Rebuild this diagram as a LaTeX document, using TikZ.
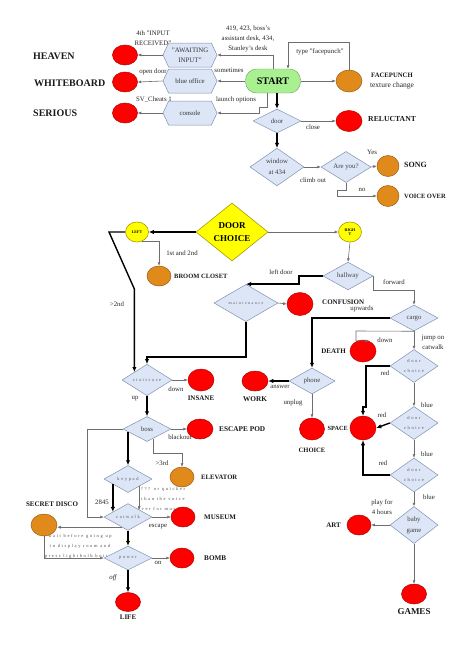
\documentclass[tikz,border=0pt]{standalone}
\usepackage{fontspec}
\setmainfont{Liberation Serif}
\newfontfamily\spcfont[LetterSpace=36]{Liberation Serif}
\usetikzlibrary{shapes.geometric,shapes.symbols,shapes.misc,arrows.meta,calc}
\definecolor{bfill}{HTML}{DCE6F7}
\definecolor{bdraw}{HTML}{8090B0}
\definecolor{rfill}{HTML}{FF0000}
\definecolor{rdraw}{HTML}{B00000}
\definecolor{ofill}{HTML}{E08A1C}
\definecolor{odraw}{HTML}{9A5B14}
\definecolor{yfill}{HTML}{FFFF00}
\definecolor{ydraw}{HTML}{A89A00}
\definecolor{gfill}{HTML}{A8F090}
\definecolor{gdraw}{HTML}{70A060}
\definecolor{lgray}{HTML}{6E6E6E}
\begin{document}
\begin{tikzpicture}[x=1pt,y=-1pt,
 lbl/.style={font=\fontsize{6.8}{10}\selectfont, text=black!85, inner sep=0, align=center},
 spl/.style={font=\spcfont\fontsize{4.5}{10}\selectfont, text=black!70, inner sep=0, align=center},
 ttl/.style={font=\bfseries\fontsize{#1}{#1}\selectfont, text=black!90, inner sep=0, align=center},
 dia/.style={diamond, draw=bdraw, fill=bfill, inner sep=0, line width=0.5pt, font=\fontsize{6.8}{11}\selectfont, text=black!75, align=center},
 sdia/.style={dia, font=\spcfont\fontsize{4.5}{10}\selectfont, text=black!65},
 hexa/.style={signal, signal to=east and west, signal pointer angle=130, draw=bdraw, fill=bfill, minimum width=54, minimum height=24, inner sep=0, line width=0.5pt, font=\fontsize{6.8}{10}\selectfont, align=center, text=black!80},
 rc/.style={ellipse, draw=rdraw, fill=rfill, inner sep=0, minimum width=26, minimum height=21, line width=0.5pt},
 oc/.style={ellipse, draw=odraw, fill=ofill, inner sep=0, minimum width=26, minimum height=21, line width=0.5pt},
 yc/.style={ellipse, draw=ydraw, fill=yfill, inner sep=0, minimum width=23, minimum height=20, line width=0.6pt, font=\bfseries\fontsize{4}{4.5}\selectfont, align=center},
 thn/.style={draw=lgray, line width=0.6pt, -{Latex[length=3.5pt,width=3pt]}},
 thk/.style={draw=black, line width=1.4pt, -{Latex[length=5pt,width=4.5pt]}},
]
\useasboundingbox (0,0) rectangle (474,648);
% ---------- labels drawn first ----------
\node[lbl] (l4th) at (153,38) {4th "INPUT\\RECEIVED"};
\node[lbl] (l419) at (248,38.5) {419, 423, boss's\\assistant desk, 434,\\Stanley's desk};
\node[lbl] (ltype) at (320,52) {type "facepunch"};
\node[lbl] (lsome) at (229,70) {sometimes};
\node[lbl] (lopen) at (153,72) {open door};
\node[lbl] (lsv) at (154,100) {SV\_Cheats 1};
\node[lbl] (llaunch) at (236,100) {launch options};
\node[lbl] (lclose) at (313,127) {close};
\node[lbl] (lclimb) at (313,180) {climb out};
\node[lbl] (lyes) at (372,152) {Yes};
\node[lbl] (lno) at (362,190) {no};
\node[lbl] (l1st) at (182,253) {1st and 2nd};
\node[lbl] (l2nd) at (117,304) {>2nd};
\node[lbl] (lleft) at (281,272) {left door};
\node[lbl] (lfwd) at (394,282) {forward};
\node[lbl] (lup) at (362,309) {upwards};
\node[lbl] (ldown) at (385,340) {down};
\node[lbl] (ljump) at (433,342) {jump on\\catwalk};
\node[lbl] (lr1) at (385,373) {red};
\node[lbl] (lb1) at (427,405) {blue};
\node[lbl] (lr2) at (382,415) {red};
\node[lbl] (lb2) at (427,454) {blue};
\node[lbl] (lr3) at (383,463) {red};
\node[lbl] (lb3) at (429,497) {blue};
\node[lbl] (lplay) at (382,507) {play for\\4 hours};
\node[lbl] (lans) at (280,387) {answer};
\node[lbl] (lunp) at (293,403) {unplug};
\node[lbl] (ldown2) at (176,389) {down};
\node[lbl] (lup2) at (135,399) {up};
\node[lbl] (lblack) at (180,437) {blackout};
\node[lbl] (l3rd) at (162,463) {>3rd};
\node[spl] (lquick) at (163,499) {??? or quicker\\than the voice\\ever for museum};
\node[lbl] (l2845) at (102,502) {2845};
\node[lbl] (lesc) at (158,527) {escape};
\node[spl] (lwait) at (80,546) {wait before going up\\in display room and\\press lightbulb button};
\node[lbl] (lon) at (158,563) {on};
\node[lbl,font=\itshape\fontsize{6.8}{10}\selectfont] (loff) at (113,578) {off};
% ---------- top section ----------
\node[hexa] (aw) at (190,55) {"AWAITING\\INPUT"};
\node[hexa] (bo) at (190,81) {blue office};
\node[hexa] (con) at (190,113) {console};
\node[rc, minimum width=25, minimum height=20] (heaven) at (125,55) {};
\node[rc, minimum width=25, minimum height=20] (wb) at (125,82) {};
\node[rc, minimum width=25, minimum height=20] (ser) at (125,113) {};
\node[ttl=10, anchor=west] (tHeaven) at (33,56) {HEAVEN};
\node[ttl=10, anchor=west] (tWb) at (34,83) {WHITEBOARD};
\node[ttl=10, anchor=west] (tSer) at (33,113) {SERIOUS};
\node[rectangle, rounded corners=11pt, draw=gdraw, fill=gfill, minimum width=55, minimum height=24, inner sep=0, font=\bfseries\fontsize{10}{10}\selectfont] (start) at (273,81) {START};
\node[oc, minimum width=26, minimum height=22] (fp) at (349,81) {};
\node[ttl=6.7] (tFp1) at (392,75) {FACEPUNCH};
\node[lbl, font=\fontsize{7.5}{8}\selectfont] (tFp2) at (392,85.5) {texture change};
\node[dia, minimum width=48, minimum height=24] (door) at (277,121) {door};
\node[rc] (rel) at (349,121) {};
\node[ttl=7.7, anchor=west] (tRel) at (368,119) {RELUCTANT};
\node[dia, minimum width=54, minimum height=30] (win) at (277,167) {window\\at 434};
\node[dia, minimum width=50, minimum height=29] (ay) at (346,167) {Are you?};
\node[oc, minimum width=22, minimum height=21] (song) at (388,166) {};
\node[ttl=8, anchor=west] (tSong) at (404,165) {SONG};
\node[oc, minimum width=22, minimum height=21] (vo) at (388,196) {};
\node[ttl=6.5, anchor=west] (tVo) at (404,196) {VOICE OVER};
% ---------- door choice ----------
\node[diamond, draw=ydraw, fill=yfill, minimum width=72, minimum height=58, inner sep=0, line width=0.6pt, font=\bfseries\fontsize{9}{13}\selectfont, align=center] (dc) at (232,232) {DOOR\\CHOICE};
\node[yc] (left) at (137,232) {LEFT};
\node[yc] (right) at (350,232) {RIGH\\T};
\node[oc, minimum width=24, minimum height=20] (broom) at (159,276) {};
\node[ttl=6.5, anchor=west] (tBroom) at (174,276) {BROOM CLOSET};
\node[dia, minimum width=50, minimum height=26] (hall) at (348,276) {hallway};
\node[sdia, minimum width=64, minimum height=30, font=\spcfont\fontsize{4}{10}\selectfont] (maint) at (246,303) {maintenance};
\node[rc, minimum width=26, minimum height=23] (conf) at (300,304) {};
\node[ttl=7, anchor=west] (tConf) at (322,302) {CONFUSION};
\node[dia, minimum width=48, minimum height=26] (cargo) at (414,318) {cargo};
\node[rc, minimum width=26, minimum height=22] (death) at (363,351) {};
\node[ttl=7, anchor=east] (tDeath) at (346,351) {DEATH};
\node[sdia, minimum width=48, minimum height=32] (dc1) at (414,366) {door\\choice};
\node[sdia, minimum width=48, minimum height=33] (dc2) at (414,423) {door\\choice};
\node[sdia, minimum width=48, minimum height=34] (dc3) at (414,475) {door\\choice};
\node[rc, minimum width=26, minimum height=24] (space) at (363,428) {};
\node[ttl=6.3, anchor=east] (tSpace) at (348,428) {SPACE};
\node[dia, minimum width=48, minimum height=37] (baby) at (414,525) {baby\\game};
\node[rc, minimum width=24, minimum height=20] (art) at (359,525) {};
\node[ttl=7, anchor=east] (tArt) at (341,525) {ART};
\node[rc, minimum width=25, minimum height=20] (games) at (414,594) {};
\node[ttl=9] (tGames) at (414,612) {GAMES};
\node[dia, minimum width=46, minimum height=26] (phone) at (312,381) {phone};
\node[rc, minimum width=26, minimum height=20] (work) at (255,381) {};
\node[ttl=7.3] (tWork) at (255,399) {WORK};
\node[rc, minimum width=25, minimum height=22] (choice) at (312,429) {};
\node[ttl=6.6] (tChoice) at (312,450) {CHOICE};
% ---------- left lower ----------
\node[sdia, minimum width=50, minimum height=24] (stair) at (147,380) {staircase};
\node[rc, minimum width=26, minimum height=22] (insane) at (201,380) {};
\node[ttl=7] (tInsane) at (201,398) {INSANE};
\node[dia, minimum width=48, minimum height=25] (boss) at (147,429) {boss};
\node[rc, minimum width=26, minimum height=20] (escape) at (200,429) {};
\node[ttl=7.3, anchor=west] (tEscape) at (219,429) {ESCAPE POD};
\node[oc, minimum width=24, minimum height=20] (elev) at (182,477) {};
\node[ttl=6.7, anchor=west] (tElev) at (201,477) {ELEVATOR};
\node[sdia, minimum width=48, minimum height=27] (keypad) at (128,479) {keypad};
\node[sdia, minimum width=48, minimum height=24] (catwalk) at (128,517) {catwalk};
\node[rc, minimum width=24, minimum height=20] (museum) at (183,517) {};
\node[ttl=7, anchor=west] (tMuseum) at (204,517) {MUSEUM};
\node[oc, minimum width=26, minimum height=22] (disco) at (44,525) {};
\node[ttl=7] (tDisco) at (52,504) {SECRET DISCO};
\node[sdia, minimum width=48, minimum height=24] (power) at (128,558) {power};
\node[rc, minimum width=24, minimum height=20] (bomb) at (182,558) {};
\node[ttl=7.2, anchor=west] (tBomb) at (204,558) {BOMB};
\node[rc, minimum width=25, minimum height=19] (life) at (128,602) {};
\node[ttl=7] (tLife) at (128,617) {LIFE};
% ---------- connectors: top ----------
\draw[thn] (aw.west) -- (heaven.east);
\draw[thn] (bo.west) -- (wb.east);
\draw[thn] (con.west) -- (ser.east);
\draw[thn] (start.north) |- (aw.east);
\draw[thn] (start.west) -- (bo.east);
\draw[thn] ($(start.south)+(-6,0)$) |- (259,107) |- (con.east);
\draw[thn] (start.east) -- (fp.west);
\draw[thn] (fp.north) -- ++(0,-27) -| ($(start.north)+(15,0)$);
\draw[thk] (start.south -| door.north) -- (door.north);
\draw[thn] (door.east) -- (rel.west);
\draw[thk] (door.south) -- (win.north);
\draw[thn] (win.east) -- (ay.west);
\draw[thn] (ay.east) -- (song.west);
\draw[thn] (ay.south) |- (337,190) |- (vo.west);
% ---------- connectors: door choice ----------
\draw[thk] (dc.west) -- (left.east);
\draw[thn] (dc.east) -- (right.west);
\draw[thn] (left.-60) -| (broom.north);
\draw[thk] (left.west) -- (109,232) -- (stair.north west |- 0,289) -- (stair.north west);
\draw[thn] (right.south) -- (hall.north);
\draw[thk] (hall.west) -- (299,276) |- (maint.north);
\draw[thn] (maint.east) -- (conf.west);
\draw[thk] (maint.south) -- ++(0,35) -| (stair.north);
\draw[thn] (hall.east) -- ++(0,14) -| (cargo.north);
\draw[thk] (cargo.west) -| (phone.north);
\draw[thn] (cargo.south) -- (356,331) |- (death.60);
\draw[thn] (cargo.south) -- (dc1.north);
\draw[thk] (dc1.west) -- (366,366) -- (366,407) -| (space.north);
\draw[thk] (dc2.west) -- (space.east);
\draw[thk] (dc3.west) -| (space.south);
\draw[thn] (dc1.south) -- (dc2.north);
\draw[thn] (dc2.south) -- (dc3.north);
\draw[thn] (dc3.south) -- (baby.north);
\draw[thn] (baby.west) -- (art.east);
\draw[thn] (baby.south) -- (games.north);
\draw[thk] (phone.west) -- (work.east);
\draw[thn] (phone.south) -- (choice.north);
% ---------- connectors: lower left ----------
\draw[thn] (stair.east) -- (insane.west);
\draw[thk] (stair.south) -- (boss.north);
\draw[thn] (boss.east) -- (escape.west);
\coordinate (be) at ($(boss.south)!0.25!(boss.east)$);
\draw[thn] (be) -- ++(0,15) -| (elev.north);
\coordinate (bk) at ($(boss.south)!0.75!(boss.west)$);
\draw[thk] (keypad.north |- bk) -- (keypad.north);
\draw[thk] ($(keypad.south)!0.625!(keypad.west)$) -- ($(catwalk.north)!0.625!(catwalk.west)$);
\draw[thn] ($(keypad.south)!0.46!(keypad.east)$) -- ($(catwalk.north)!0.46!(catwalk.east)$);
\draw[thn] (boss.west) -- ++(-35,0) |- (catwalk.west);
\draw[thn] (catwalk.east) -- (museum.west);
\coordinate (cd) at ($(catwalk.south)!0.25!(catwalk.west)$);
\draw[thn] (cd) -- (cd -| disco.east);
\draw[thk] (catwalk.south) -- (power.north);
\draw[thn] (disco.south) |- (power.west);
\draw[thn] (power.east) -- (bomb.west);
\draw[thk] (power.south) -- (life.north);
\end{tikzpicture}
\end{document}
